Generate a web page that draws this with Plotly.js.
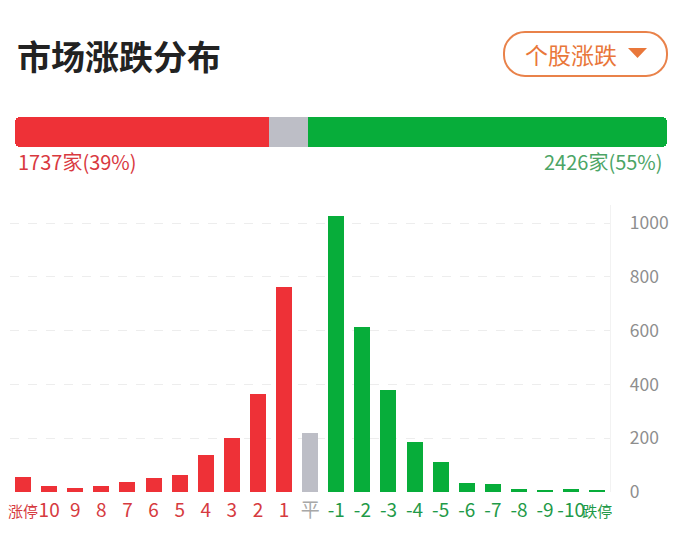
<!DOCTYPE html>
<html><head><meta charset="utf-8">
<script src="https://cdn.plot.ly/plotly-3.0.1.min.js"></script>
<style>html,body{margin:0;padding:0;background:#fff;}#chart{width:684px;height:539px;}</style>
</head><body><div id="chart"></div>
<script>
// ---- data ----
const categories = ["涨停","10","9","8","7","6","5","4","3","2","1","平","-1","-2","-3","-4","-5","-6","-7","-8","-9","-10","跌停"];
const upValues   = [54, 24, 15, 21, 36, 51, 62, 137, 201, 364, 761];
const flatValues = [221];
const downValues = [1027, 615, 379, 186, 111, 35, 28, 13, 6, 10, 9];
const upCount = 1737, flatCount = 221, downCount = 2426;
const yTicks = [0, 200, 400, 600, 800, 1000];
const titleText = "市场涨跌分布";
const buttonText = "个股涨跌";

// ---- style ----
const RED = "#EE3137", GREY = "#BDBEC6", GREEN = "#07AD3A";
const RED_T = "#D63A40", GREY_T = "#A8A8A8", GREEN_T = "#1F9A48";
const FONT = "Noto Sans CJK SC";

const values = upValues.concat(flatValues, downValues);
const nUp = upValues.length, nFlat = flatValues.length;
const colors = values.map((v, i) => i < nUp ? RED : (i < nUp + nFlat ? GREY : GREEN));
const tickColors = values.map((v, i) => i < nUp ? RED_T : (i < nUp + nFlat ? GREY_T : GREEN_T));
const tickText = categories.map((c, i) => {
  const small = (i === 0 || i === categories.length - 1);
  return '<span style="color:' + tickColors[i] + (small ? ';font-size:15px' : '') + '">' + c + '</span>';
});

const total = upCount + flatCount + downCount;
const upPct = Math.floor(upCount / total * 100);
const downPct = Math.floor(downCount / total * 100);
const flatPct = 100 - upPct - downPct;

// pixel helpers (plot area = paper)
const W = 684, H = 539, L = 10, R = 17, T = 0, B = 47;
const PW = W - L - R, PH = H - T - B;
const px = p => (p - L) / PW;
const py = p => (T + PH - p) / PH;

const traces = [
  { type: "bar", x: categories, y: values, marker: { color: colors }, width: 0.61,
    xaxis: "x", yaxis: "y", hoverinfo: "skip" },
  // summary bar: red & green extend under the grey part, grey drawn on top
  { type: "bar", orientation: "h", y: [0], x: [-(upPct + flatPct)], base: [upPct + flatPct], width: 1,
    marker: { color: RED, cornerradius: 5 }, xaxis: "x2", yaxis: "y2", hoverinfo: "skip" },
  { type: "bar", orientation: "h", y: [0], x: [flatPct + downPct], base: [upPct], width: 1,
    marker: { color: GREEN, cornerradius: 5 }, xaxis: "x2", yaxis: "y2", hoverinfo: "skip" },
  { type: "bar", orientation: "h", y: [0], x: [flatPct], base: [upPct], width: 1,
    marker: { color: GREY }, xaxis: "x2", yaxis: "y2", hoverinfo: "skip" }
];

// pill button path
const bx0 = 504, bx1 = 667, by0 = 32, by1 = 76, r = 21;
const P = (x, y) => px(x) + "," + py(y);
const k = 0.55 * r;
const pill = "M" + P(bx0 + r, by0) + " L" + P(bx1 - r, by0) +
  " C" + P(bx1 - r + k, by0) + " " + P(bx1, by0 + r - k) + " " + P(bx1, by0 + r) +
  " L" + P(bx1, by1 - r) +
  " C" + P(bx1, by1 - r + k) + " " + P(bx1 - r + k, by1) + " " + P(bx1 - r, by1) +
  " L" + P(bx0 + r, by1) +
  " C" + P(bx0 + r - k, by1) + " " + P(bx0, by1 - r + k) + " " + P(bx0, by1 - r) +
  " L" + P(bx0, by0 + r) +
  " C" + P(bx0, by0 + r - k) + " " + P(bx0 + r - k, by0) + " " + P(bx0 + r, by0) + " Z";
const tri = "M" + P(628, 48) + " L" + P(647, 48) + " L" + P(637.5, 58) + " Z";

const layout = {
  width: W, height: H,
  margin: { l: L, r: R, t: T, b: B, pad: 0 },
  paper_bgcolor: "#ffffff", plot_bgcolor: "rgba(0,0,0,0)",
  showlegend: false, barmode: "overlay", bargap: 0,
  font: { family: FONT },
  xaxis: {
    domain: [0, px(610.3)], type: "category", range: [-0.5, categories.length - 0.5],
    tickvals: categories, ticktext: tickText, tickangle: 0,
    tickfont: { size: 19, color: RED_T, family: FONT },
    ticks: "outside", ticklen: 1, tickcolor: "rgba(0,0,0,0)",
    showgrid: false, zeroline: false, showline: false, fixedrange: true
  },
  yaxis: {
    domain: [0, py(205)], range: [0, (491.7 - 205) / (268.5 / 1000)], anchor: "x", side: "right",
    tickvals: yTicks, tickfont: { size: 17.5, color: "#8E8E8E", family: FONT },
    ticks: "outside", ticklen: 15, tickcolor: "rgba(0,0,0,0)",
    showgrid: true, gridcolor: "#EDEDED", griddash: "dash", gridwidth: 1,
    zeroline: false, showline: true, linecolor: "#F2F2F2", fixedrange: true
  },
  xaxis2: { domain: [px(15), 1], range: [0, 100], anchor: "y2", visible: false, fixedrange: true },
  yaxis2: { domain: [py(147), py(117)], range: [-0.5, 0.5], anchor: "x2", visible: false, fixedrange: true },
  shapes: [
    { type: "path", xref: "paper", yref: "paper", path: pill, line: { color: "#E9824A", width: 2 }, fillcolor: "rgba(0,0,0,0)" },
    { type: "path", xref: "paper", yref: "paper", path: tri, line: { width: 0 }, fillcolor: "#E9773A" }
  ],
  annotations: [
    { xref: "paper", yref: "paper", x: px(15), y: py(56), xanchor: "left", yanchor: "middle", showarrow: false,
      text: "<b>" + titleText + "</b>", font: { size: 34, color: "#222222", family: FONT } },
    { xref: "paper", yref: "paper", x: px(571), y: py(54), xanchor: "center", yanchor: "middle", showarrow: false,
      text: buttonText, font: { size: 23, color: "#E9773A", family: FONT } },
    { xref: "paper", yref: "paper", x: px(16), y: py(162), xanchor: "left", yanchor: "middle", showarrow: false,
      text: upCount + "家(" + upPct + "%)", font: { size: 20, color: "#D9393F", family: FONT } },
    { xref: "paper", yref: "paper", x: px(665), y: py(162), xanchor: "right", yanchor: "middle", showarrow: false,
      text: downCount + "家(" + downPct + "%)", font: { size: 20, color: "#4CA566", family: FONT } }
  ]
};

Plotly.newPlot("chart", traces, layout, { displayModeBar: false, staticPlot: true });
</script>
</body></html>
